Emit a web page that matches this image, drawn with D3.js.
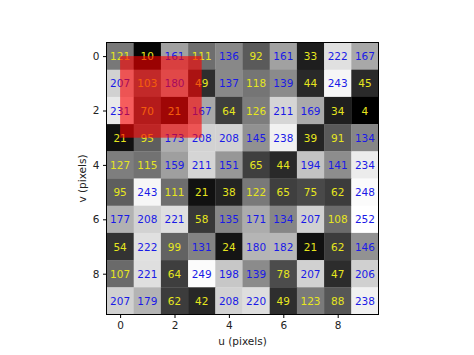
<!DOCTYPE html>
<html><head><meta charset="utf-8">
<script src="https://cdn.jsdelivr.net/npm/d3@7"></script>
<style>body{margin:0;background:#fff;} svg{display:block;font-family:"DejaVu Sans",sans-serif;}</style>
</head><body>
<svg id="c" width="474" height="355"></svg>
<script>
const row0 = [121,10,161,111,136,92,161,33,222,167];
const row1 = [207,103,180,49,137,118,139,44,243,45];
const row2 = [231,70,21,167,64,126,211,169,34,4];
const row3 = [21,95,173,208,208,145,238,39,91,134];
const row4 = [127,115,159,211,151,65,44,194,141,234];
const row5 = [95,243,111,21,38,122,65,75,62,248];
const row6 = [177,208,221,58,135,171,134,207,108,252];
const row7 = [54,222,99,131,24,180,182,21,62,146];
const row8 = [107,221,64,249,198,139,78,207,47,206];
const row9 = [207,179,62,42,208,220,49,123,88,238];
const rows = [row0,row1,row2,row3,row4,row5,row6,row7,row8,row9];
const tickValues = [0,2,4,6,8];
const roi = {u0:0, v0:0, u1:3, v1:3};
const xLabel = "u (pixels)", yLabel = "v (pixels)";

const svg = d3.select("#c");
const x = d3.scaleLinear().domain([-0.5,9.5]).range([106.5,378.5]);
const y = d3.scaleLinear().domain([-0.5,9.5]).range([42.5,314.5]);
const all = rows.flat();
const g = d3.scaleLinear().domain([d3.min(all), d3.max(all)]).range([0,255]);
const cells = [];
rows.forEach((r,i)=>r.forEach((v,j)=>cells.push({i,j,v})));
const cw = x(1)-x(0), ch = y(1)-y(0);
svg.append("g").selectAll("rect").data(cells).join("rect")
  .attr("x",d=>x(d.j-0.5)).attr("y",d=>y(d.i-0.5))
  .attr("width",cw+0.3).attr("height",ch+0.3)
  .attr("fill",d=>{const c=Math.round(g(d.v));return `rgb(${c},${c},${c})`;});
svg.append("g").selectAll("text").data(cells).join("text")
  .attr("x",d=>x(d.j)).attr("y",d=>y(d.i))
  .attr("text-anchor","middle").attr("dominant-baseline","central")
  .attr("font-size",10.5)
  .attr("fill",d=>d.v<128?"#e6e61e":"#1a1ae6")
  .text(d=>d.v);
svg.append("rect")
  .attr("x",x(roi.u0)).attr("y",y(roi.v0))
  .attr("width",x(roi.u1)-x(roi.u0)).attr("height",y(roi.v1)-y(roi.v0))
  .attr("fill","red").attr("fill-opacity",0.6);
svg.append("rect").attr("x",106.5).attr("y",42.5).attr("width",272).attr("height",272)
  .attr("fill","none").attr("stroke","#000").attr("stroke-width",1);
const xa = svg.append("g").attr("transform","translate(0,314.5)")
  .call(d3.axisBottom(x).tickValues(tickValues).tickSize(3.5).tickPadding(3.5).tickFormat(d3.format("d")));
const ya = svg.append("g").attr("transform","translate(106.5,0)")
  .call(d3.axisLeft(y).tickValues(tickValues).tickSize(3.5).tickPadding(3.5).tickFormat(d3.format("d")));
[xa,ya].forEach(a=>{a.select(".domain").remove();a.selectAll("text").attr("font-size",10.5).attr("fill","#222").attr("font-family","DejaVu Sans");a.selectAll("line").attr("stroke","#000");});
svg.append("text").attr("x",242.5).attr("y",345).attr("text-anchor","middle").attr("font-size",10.5).attr("fill","#222").text(xLabel);
svg.append("text").attr("transform","translate(86,178.5) rotate(-90)").attr("text-anchor","middle").attr("font-size",10.5).attr("fill","#222").text(yLabel);
</script>
</body></html>
